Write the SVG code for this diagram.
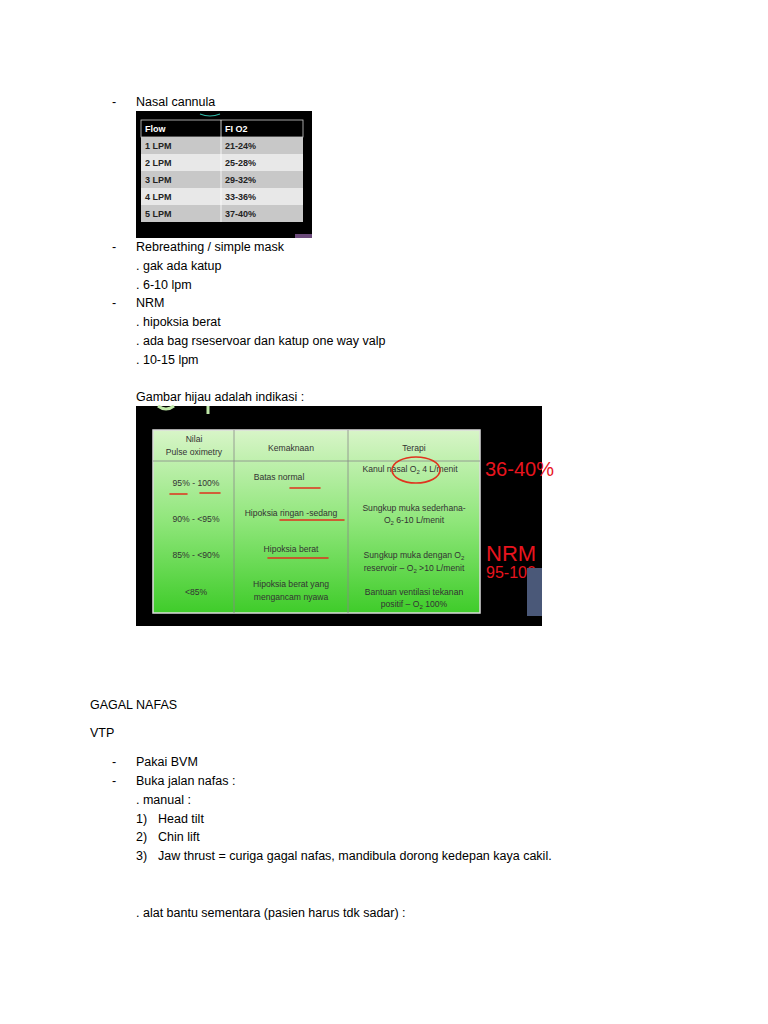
<svg xmlns="http://www.w3.org/2000/svg" width="768" height="1024" viewBox="0 0 768 1024">
<defs>
<style>
.t{font-family:"Liberation Sans",Arial,sans-serif;font-size:12.5px;fill:#000}
.a{font-family:"Liberation Sans",Arial,sans-serif;font-size:9px;font-weight:bold;fill:#222}
.g{font-family:"Liberation Sans",Arial,sans-serif;font-size:8.6px;fill:#333;text-anchor:middle}
.r{fill:none;stroke:#e0321e;stroke-width:1.6;stroke-linecap:round}
</style>
<linearGradient id="gr" x1="0" y1="0" x2="0" y2="1">
<stop offset="0" stop-color="#d8f5c8"/><stop offset="0.5" stop-color="#8fe67a"/><stop offset="1" stop-color="#3fcc2a"/>
</linearGradient>
</defs>
<rect width="768" height="1024" fill="#fff"/>
<g id="text">
<text class="t" x="112" y="106">-</text><text class="t" x="136" y="106">Nasal cannula</text>
<text class="t" x="112" y="251">-</text><text class="t" x="136" y="251">Rebreathing / simple mask</text>
<text class="t" x="136" y="270">. gak ada katup</text>
<text class="t" x="136" y="289">. 6-10 lpm</text>
<text class="t" x="112" y="307">-</text><text class="t" x="136" y="307">NRM</text>
<text class="t" x="136" y="326">. hipoksia berat</text>
<text class="t" x="136" y="345">. ada bag rseservoar dan katup one way valp</text>
<text class="t" x="136" y="364">. 10-15 lpm</text>
<text class="t" x="136" y="401">Gambar hijau adalah indikasi :</text>
<text class="t" x="90" y="709">GAGAL NAFAS</text>
<text class="t" x="90" y="737">VTP</text>
<text class="t" x="112" y="766">-</text><text class="t" x="136" y="766">Pakai BVM</text>
<text class="t" x="112" y="785">-</text><text class="t" x="136" y="785">Buka jalan nafas :</text>
<text class="t" x="136" y="804">. manual :</text>
<text class="t" x="136" y="823">1)</text><text class="t" x="158" y="823">Head tilt</text>
<text class="t" x="136" y="841">2)</text><text class="t" x="158" y="841">Chin lift</text>
<text class="t" x="136" y="860">3)</text><text class="t" x="158" y="860">Jaw thrust = curiga gagal nafas, mandibula dorong kedepan kaya cakil.</text>
<text class="t" x="136" y="917">. alat bantu sementara (pasien harus tdk sadar) :</text>
</g>
<g id="table1">
<rect x="136" y="111" width="176" height="127" fill="#000"/>
<path d="M200 114 q10 4 20 0" stroke="#2fb8a8" fill="none" stroke-width="1.2"/>
<rect x="141" y="120" width="162" height="17" fill="#000" stroke="#ccc" stroke-width="0.8"/>
<rect x="141" y="137" width="162" height="17" fill="#c8c8c8"/>
<rect x="141" y="154" width="162" height="17" fill="#e8e8e8"/>
<rect x="141" y="171" width="162" height="17" fill="#c8c8c8"/>
<rect x="141" y="188" width="162" height="17" fill="#e8e8e8"/>
<rect x="141" y="205" width="162" height="17" fill="#c8c8c8"/>
<line x1="221" y1="120" x2="221" y2="222" stroke="#fff" stroke-width="0.8"/>
<rect x="295" y="234" width="17" height="4" fill="#6b4a7a"/>
<text class="a" x="145" y="132" style="fill:#fff">Flow</text><text class="a" x="225" y="132" style="fill:#fff">FI O2</text>
<text class="a" x="145" y="149">1 LPM</text><text class="a" x="225" y="149">21-24%</text>
<text class="a" x="145" y="166">2 LPM</text><text class="a" x="225" y="166">25-28%</text>
<text class="a" x="145" y="183">3 LPM</text><text class="a" x="225" y="183">29-32%</text>
<text class="a" x="145" y="200">4 LPM</text><text class="a" x="225" y="200">33-36%</text>
<text class="a" x="145" y="217">5 LPM</text><text class="a" x="225" y="217">37-40%</text>
</g>
<g id="table2">
<rect x="136" y="406" width="406" height="220" fill="#000"/>
<path d="M158 406 q8 6 16 0 M208 406 v8" stroke="#bfe8a8" fill="none" stroke-width="3"/>
<rect x="153" y="430" width="327" height="183" fill="url(#gr)" stroke="#ddd" stroke-width="1.5"/>
<g stroke="#888" stroke-width="0.8"><line x1="234" y1="430" x2="234" y2="613"/><line x1="348" y1="430" x2="348" y2="613"/><line x1="153" y1="461" x2="480" y2="461"/></g>
<text class="g" x="194" y="442">Nilai</text><text class="g" x="194" y="455">Pulse oximetry</text>
<text class="g" x="291" y="451">Kemaknaan</text><text class="g" x="414" y="451">Terapi</text>
<text class="g" x="196" y="486">95% - 100%</text>
<text class="g" x="279" y="480">Batas normal</text>
<text class="g" x="410" y="472">Kanul nasal  O<tspan font-size="6" dy="2">2</tspan><tspan dy="-2"> 4 L/menit</tspan></text>
<text class="g" x="196" y="522">90% - &lt;95%</text>
<text class="g" x="291" y="516">Hipoksia ringan -sedang</text>
<text class="g" x="414" y="511">Sungkup muka sederhana-</text><text class="g" x="414" y="523">O<tspan font-size="6" dy="2">2</tspan><tspan dy="-2"> 6-10 L/menit</tspan></text>
<text class="g" x="196" y="558">85% - &lt;90%</text>
<text class="g" x="291" y="552">Hipoksia berat</text>
<text class="g" x="414" y="558">Sungkup muka dengan O<tspan font-size="6" dy="2">2</tspan></text><text class="g" x="414" y="571">reservoir – O<tspan font-size="6" dy="2">2</tspan><tspan dy="-2"> &gt;10 L/menit</tspan></text>
<text class="g" x="196" y="595">&lt;85%</text>
<text class="g" x="291" y="587">Hipoksia berat yang</text><text class="g" x="291" y="600">mengancam nyawa</text>
<text class="g" x="414" y="595">Bantuan ventilasi tekanan</text><text class="g" x="414" y="607">positif – O<tspan font-size="6" dy="2">2</tspan><tspan dy="-2"> 100%</tspan></text>
<path class="r" d="M170 494 h17 M200 493 h20 M290 488 h30 M280 520 h64 M268 558 h60"/>
<ellipse class="r" cx="416" cy="470" rx="24" ry="13"/>
<text x="485" y="476" font-family="Liberation Sans,sans-serif" font-size="20" fill="#e8141e">36-40%</text>
<text x="486" y="561" font-family="Liberation Sans,sans-serif" font-size="22" fill="#e8141e">NRM</text>
<text x="486" y="578" font-family="Liberation Sans,sans-serif" font-size="16" fill="#e8141e">95-100</text>
<rect x="527" y="568" width="15" height="48" fill="#4a5878"/>
</g>
</svg>
